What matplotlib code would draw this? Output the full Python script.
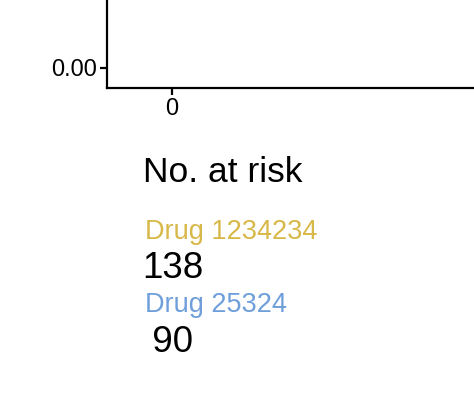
import matplotlib
matplotlib.use("Agg")
import matplotlib.pyplot as plt

plt.rcParams['font.family'] = ['Liberation Sans', 'DejaVu Sans']
groups = ["Drug 1234234", "Drug 25324"]
at_risk = ["138", " 90"]
colors = ["#D8B848", "#6E9FDA"]
xticks = [0]
yticks = [0]
yticklabels = ["0.00"]

fig = plt.figure(figsize=(4.74, 4.01), dpi=100)
ax = fig.add_axes([107/474, 1-88/401, 1-107/474, 88/401])
ax.set_xlim(-1, 4.646)
ax.set_ylim(-1, 3.4)
ax.set_xticks(xticks)
ax.set_xticklabels([str(t) for t in xticks], fontsize=17)
ax.set_yticks(yticks)
ax.set_yticklabels(yticklabels, fontsize=17)
for s in ["top", "right"]:
    ax.spines[s].set_visible(False)
for s in ["left", "bottom"]:
    ax.spines[s].set_linewidth(1.6)
ax.tick_params(width=1.6, length=5, pad=2, colors='black')

fig.text(143/474, 1-173/401, "No. at risk", fontsize=25.5, va='center', ha='left')
ys_lab = [232, 305]
ys_num = [268, 343]
for g, n, c, yl, yn in zip(groups, at_risk, colors, ys_lab, ys_num):
    fig.text(145/474, 1-yl/401, g, fontsize=19.5, color=c, va='center', ha='left')
    fig.text(142/474, 1-yn/401, n, fontsize=26.5, color='black', va='center', ha='left')

fig.savefig("out.png", dpi=100)
